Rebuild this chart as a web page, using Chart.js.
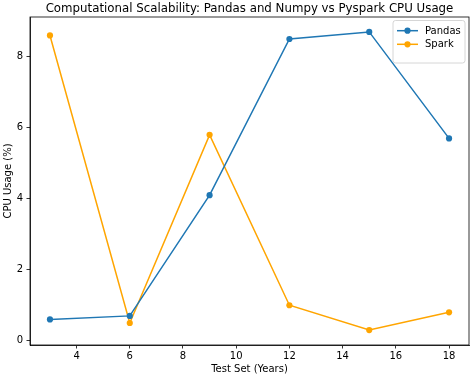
<!DOCTYPE html>
<html>
<head>
<meta charset="utf-8">
<script src="https://cdn.jsdelivr.net/npm/chart.js@4/dist/chart.umd.min.js"></script>
<style>
html,body{margin:0;padding:0;background:#fff;}
canvas{display:block;}
</style>
</head>
<body>
<canvas id="c" width="474" height="377"></canvas>
<script>
const years = [3, 6, 9, 12, 15, 18];
const pandasCpu = [0.6, 0.7, 4.1, 8.5, 8.7, 5.7];
const sparkCpu = [8.6, 0.5, 5.8, 1.0, 0.3, 0.8];
const xTicks = [4, 6, 8, 10, 12, 14, 16, 18];
const yTicks = [0, 2, 4, 6, 8];
const seriesNames = ['Pandas', 'Spark'];
const titleText = 'Computational Scalability: Pandas and Numpy vs Pyspark CPU Usage';
const xLabel = 'Test Set (Years)';
const yLabel = 'CPU Usage (%)';

const FONT = "'DejaVu Sans', sans-serif";
const BLUE = '#1f77b4';
const ORANGE = '#ffa500';

function toPoints(xs, ys) { return xs.map((x, i) => ({x: x, y: ys[i]})); }

const frame = {
  id: 'frame',
  afterDatasetsDraw(chart) {
    const a = chart.chartArea, ctx = chart.ctx;
    ctx.save();
    ctx.strokeStyle = '#000';
    ctx.lineWidth = 0.8;
    ctx.strokeRect(a.left, a.top, a.right - a.left, a.bottom - a.top);
    ctx.restore();
  }
};

const axTitle = {
  id: 'axTitle',
  afterDraw(chart) {
    const a = chart.chartArea, ctx = chart.ctx;
    ctx.save();
    ctx.fillStyle = '#000';
    ctx.font = '11.8px ' + FONT;
    ctx.textAlign = 'center';
    ctx.textBaseline = 'middle';
    ctx.fillText(titleText, (a.left + a.right) / 2, 8.8);
    ctx.restore();
  }
};

const legendBox = {
  id: 'legendBox',
  afterDraw(chart) {
    const ctx = chart.ctx;
    const a = chart.chartArea;
    const w = 72, h = 42.5;
    const x0 = a.right - 4 - w, y0 = a.top + 3.5;
    ctx.save();
    ctx.beginPath();
    ctx.roundRect(x0, y0, w, h, 2.5);
    ctx.fillStyle = 'rgba(255,255,255,0.8)';
    ctx.fill();
    ctx.strokeStyle = '#cccccc';
    ctx.lineWidth = 0.8;
    ctx.stroke();
    chart.data.datasets.forEach((ds, i) => {
      const y = y0 + 10.2 + i * 13.6;
      const lx = x0 + 4;
      ctx.strokeStyle = ds.borderColor;
      ctx.lineWidth = 1.5;
      ctx.beginPath();
      ctx.moveTo(lx, y);
      ctx.lineTo(lx + 21, y);
      ctx.stroke();
      ctx.fillStyle = ds.borderColor;
      ctx.beginPath();
      ctx.arc(lx + 10.5, y, 3.1, 0, Math.PI * 2);
      ctx.fill();
      ctx.fillStyle = '#000';
      ctx.font = '10px ' + FONT;
      ctx.textBaseline = 'middle';
      ctx.textAlign = 'left';
      ctx.fillText(ds.label, lx + 28, y + 0.5);
    });
    ctx.restore();
  }
};

new Chart(document.getElementById('c'), {
  type: 'line',
  data: {
    datasets: [
      {label: seriesNames[0], data: toPoints(years, pandasCpu), borderColor: BLUE, backgroundColor: BLUE,
       borderWidth: 1.5, pointRadius: 3.1, pointHoverRadius: 3.1, pointBorderWidth: 0, tension: 0},
      {label: seriesNames[1], data: toPoints(years, sparkCpu), borderColor: ORANGE, backgroundColor: ORANGE,
       borderWidth: 1.5, pointRadius: 3.1, pointHoverRadius: 3.1, pointBorderWidth: 0, tension: 0}
    ]
  },
  options: {
    responsive: false,
    animation: false,
    devicePixelRatio: 1,
    layout: {padding: {left: 0, right: 5, top: 17, bottom: 0}},
    plugins: {
      legend: {display: false},
      tooltip: {enabled: false},
      title: {display: false}
    },
    scales: {
      x: {
        type: 'linear', min: 2.25, max: 18.75,
        afterBuildTicks: s => { s.ticks = xTicks.map(v => ({value: v})); },
        afterFit: s => { s.height = 32; },
        ticks: {color: '#000', font: {family: FONT, size: 10}, padding: 2, maxRotation: 0},
        grid: {display: true, drawOnChartArea: false, drawTicks: true, tickLength: 3.5, tickColor: '#000', tickWidth: 0.8},
        border: {display: true, color: '#000', width: 0.8},
        title: {display: true, text: xLabel, color: '#000', font: {family: FONT, size: 10}, padding: {top: 0, bottom: 1.5}}
      },
      y: {
        type: 'linear', min: -0.12, max: 9.12,
        afterBuildTicks: s => { s.ticks = yTicks.map(v => ({value: v})); },
        afterFit: s => { s.width = 30; },
        ticks: {color: '#000', font: {family: FONT, size: 10}, padding: 3.5},
        grid: {display: true, drawOnChartArea: false, drawTicks: true, tickLength: 3.5, tickColor: '#000', tickWidth: 0.8},
        border: {display: true, color: '#000', width: 0.8},
        title: {display: true, text: yLabel, color: '#000', font: {family: FONT, size: 10}, padding: {top: 2, bottom: 0}}
      }
    }
  },
  plugins: [frame, axTitle, legendBox]
});
</script>
</body>
</html>
